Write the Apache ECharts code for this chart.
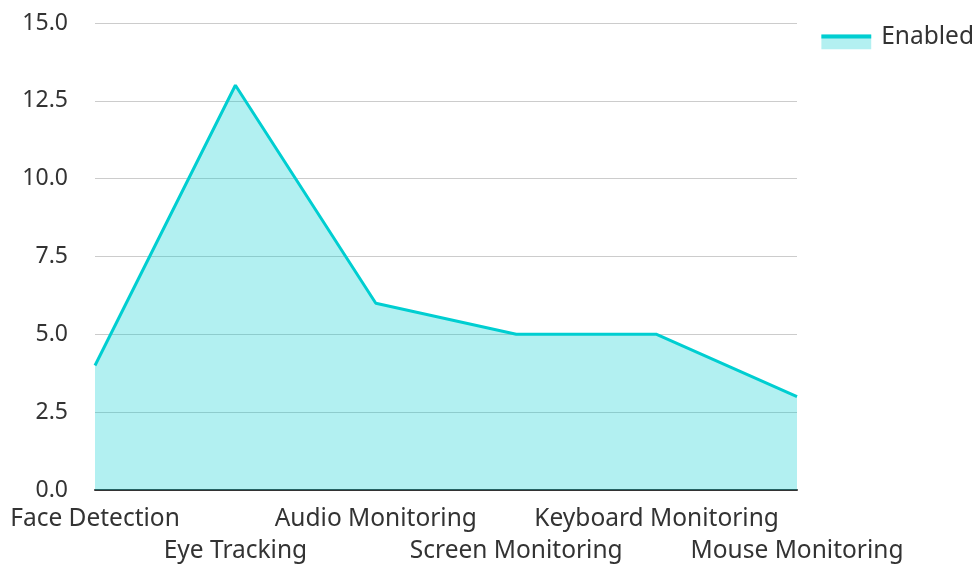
<!DOCTYPE html>
<html>
<head>
<meta charset="utf-8">
<script src="https://cdn.jsdelivr.net/npm/echarts@6/dist/echarts.min.js"></script>
<style>
html,body{margin:0;padding:0;background:#fff;}
#chart{width:978px;height:564px;}
</style>
</head>
<body>
<div id="chart"></div>
<script>
const categories = ['Face Detection', 'Eye Tracking', 'Audio Monitoring', 'Screen Monitoring', 'Keyboard Monitoring', 'Mouse Monitoring'];
const enabledValues = [4, 13, 6, 5, 5, 3];
const seriesName = 'Enabled';

const lineColor = '#00CED1';
const areaColor = 'rgba(0,206,209,0.3)';
const legendIcon = 'image://data:image/svg+xml;utf8,' + encodeURIComponent(
  '<svg xmlns="http://www.w3.org/2000/svg" width="55" height="24"><rect x="0" y="9" width="50" height="15" fill="#b3f0f1"/><rect x="0" y="9" width="50" height="4" fill="' + lineColor + '"/></svg>'
);

const chart = echarts.init(document.getElementById('chart'), null, {renderer: 'canvas'});
chart.setOption({
  animation: false,
  textStyle: {fontFamily: 'Noto Sans'},
  grid: {left: 95, right: 181, top: 23, bottom: 74, containLabel: false, outerBoundsMode: 'none'},
  legend: {
    data: [{name: seriesName, icon: legendIcon}],
    right: 4, top: 25, padding: 0,
    itemWidth: 55, itemHeight: 24, itemGap: 10,
    textStyle: {fontSize: 24.5, color: '#333', fontFamily: 'Noto Sans'}
  },
  xAxis: {
    type: 'category',
    data: categories,
    boundaryGap: false,
    axisLine: {show: true, lineStyle: {color: '#333', width: 2}},
    axisTick: {show: false},
    splitLine: {show: false},
    axisLabel: {
      interval: 0,
      margin: 13,
      fontSize: 24.5,
      lineHeight: 32,
      color: '#333',
      fontFamily: 'Noto Sans',
      formatter: function (v, i) { return i % 2 === 1 ? '\n' + v : v; }
    }
  },
  yAxis: {
    type: 'value',
    min: 0, max: 15, interval: 2.5,
    axisLine: {show: false},
    axisTick: {show: false},
    splitLine: {lineStyle: {color: '#ccc', width: 1}},
    axisLabel: {
      margin: 27,
      fontSize: 23,
      color: '#333',
      fontFamily: 'Noto Sans',
      formatter: function (v) { return v.toFixed(1); }
    }
  },
  series: [{
    name: seriesName,
    type: 'line',
    data: enabledValues,
    symbol: 'none',
    lineStyle: {color: lineColor, width: 3},
    itemStyle: {color: lineColor},
    areaStyle: {color: areaColor, opacity: 1}
  }]
});
</script>
</body>
</html>
